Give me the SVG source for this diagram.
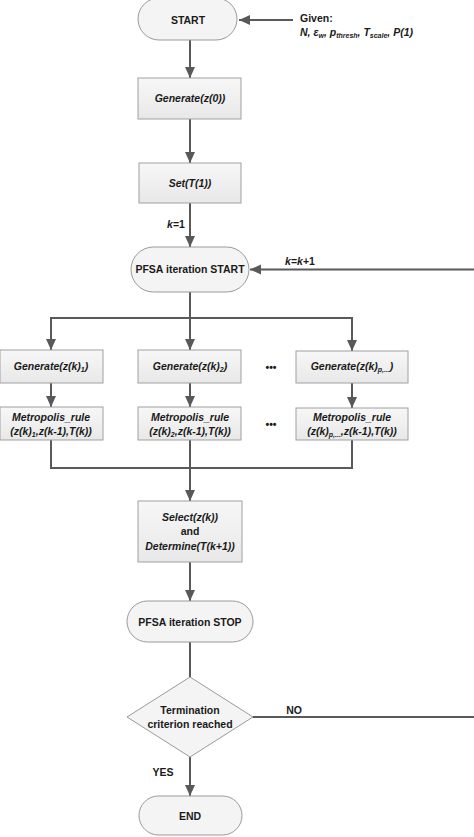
<svg xmlns="http://www.w3.org/2000/svg" width="474" height="837" viewBox="0 0 474 837">
<style>
text{font-family:"Liberation Sans",Arial,sans-serif;font-size:10.5px;fill:#1a1a1a;text-anchor:middle}
.b{font-weight:bold}
.bi{font-style:italic;font-weight:bold}
.l{text-anchor:start}
.term{fill:#f4f4f4;stroke:#9a9a9a;stroke-width:1}
.proc{fill:url(#g);stroke:#a0a0a0;stroke-width:1}
.dia{fill:#f4f4f4;stroke:#9a9a9a;stroke-width:1}
.c{fill:none;stroke:#595959;stroke-width:2}
.ca{fill:none;stroke:#595959;stroke-width:2;marker-end:url(#ah)}
.s{font-size:7px}
</style>
<defs>
<linearGradient id="g" x1="0" y1="0" x2="0" y2="1">
<stop offset="0" stop-color="#f7f7f7"/>
<stop offset="1" stop-color="#e8e8e8"/>
</linearGradient>
<marker id="ah" markerUnits="userSpaceOnUse" markerWidth="12" markerHeight="12" viewBox="0 0 12 12" refX="11" refY="6" orient="auto">
<path d="M0,1 L11,6 L0,11 Z" fill="#595959"/>
</marker>
</defs>

<g id="connectors">
<line class="ca" x1="293" y1="20" x2="239" y2="20"/>
<line class="ca" x1="190" y1="40" x2="190" y2="78"/>
<line class="ca" x1="190" y1="119" x2="190" y2="163"/>
<line class="ca" x1="190" y1="203" x2="190" y2="247"/>
<line class="ca" x1="474" y1="269.5" x2="250" y2="269.5"/>
<polyline class="c" points="190,292 190,318"/>
<polyline class="c" points="51,318 352,318"/>
<line class="ca" x1="51" y1="317" x2="51" y2="350"/>
<line class="ca" x1="190" y1="317" x2="190" y2="350"/>
<line class="ca" x1="352" y1="317" x2="352" y2="351"/>
<line class="ca" x1="51" y1="383" x2="51" y2="407"/>
<line class="ca" x1="190" y1="383" x2="190" y2="407"/>
<line class="ca" x1="352" y1="383" x2="352" y2="408"/>
<polyline class="c" points="51,440 51,468 352,468 352,440"/>
<line class="c" x1="190" y1="440" x2="190" y2="468"/>
<line class="ca" x1="190" y1="467" x2="190" y2="501"/>
<line class="ca" x1="190" y1="562" x2="190" y2="601"/>
<line class="c" x1="190" y1="642" x2="190" y2="677"/>
<line class="ca" x1="190" y1="757" x2="190" y2="796"/>
<line class="c" x1="253" y1="717" x2="474" y2="717"/>
</g>

<g id="labels">
<text class="b l" x="300" y="22">Given:</text>
<text class="bi l" x="300" y="36">N, ε<tspan class="s" dy="2">w</tspan><tspan dy="-2">, p</tspan><tspan class="s" dy="2">thresh</tspan><tspan dy="-2">, T</tspan><tspan class="s" dy="2">scale</tspan><tspan dy="-2">, P(1)</tspan></text>
<text class="b" x="176" y="228"><tspan class="bi">k</tspan>=1</text>
<text class="b" x="300" y="265"><tspan class="bi">k</tspan>=<tspan class="bi">k</tspan>+1</text>
<text class="b" x="271" y="371">•••</text>
<text class="b" x="271" y="428">•••</text>
<text class="b" x="294" y="714">NO</text>
<text class="b" x="163" y="776">YES</text>
</g>

<g id="start">
<rect class="term" x="138" y="-2" width="99" height="42" rx="21"/>
<text class="b" x="188" y="24">START</text>
</g>

<g id="generate0">
<rect class="proc" x="138" y="78" width="103" height="41"/>
<text class="bi" x="190" y="102">Generate(z(0))</text>
</g>

<g id="setT1">
<rect class="proc" x="139" y="163" width="102" height="40"/>
<text class="bi" x="190" y="187">Set(T(1))</text>
</g>

<g id="pfsa-start">
<rect class="term" x="131" y="247" width="118" height="45" rx="22.5"/>
<text class="b" x="190" y="273">PFSA iteration START</text>
</g>

<g id="gen1">
<rect class="proc" x="0" y="350" width="103" height="33"/>
<text class="bi" x="51" y="370">Generate(z(k)<tspan class="s" dy="2">1</tspan><tspan dy="-2">)</tspan></text>
</g>

<g id="gen2">
<rect class="proc" x="138" y="350" width="103" height="33"/>
<text class="bi" x="190" y="370">Generate(z(k)<tspan class="s" dy="2">2</tspan><tspan dy="-2">)</tspan></text>
</g>

<g id="genp">
<rect class="proc" x="296" y="351" width="112" height="32"/>
<text class="bi" x="352" y="370">Generate(z(k)<tspan class="s" dy="2">p,...</tspan><tspan dy="-2">)</tspan></text>
</g>

<g id="metro1">
<rect class="proc" x="0" y="407" width="103" height="33"/>
<text class="bi" x="51" y="421">Metropolis_rule</text>
<text class="bi" x="51" y="435">(z(k)<tspan class="s" dy="2">1</tspan><tspan dy="-2">,z(k-1),T(k))</tspan></text>
</g>

<g id="metro2">
<rect class="proc" x="138" y="407" width="103" height="33"/>
<text class="bi" x="190" y="421">Metropolis_rule</text>
<text class="bi" x="190" y="435">(z(k)<tspan class="s" dy="2">2</tspan><tspan dy="-2">,z(k-1),T(k))</tspan></text>
</g>

<g id="metrop">
<rect class="proc" x="296" y="408" width="112" height="32"/>
<text class="bi" x="352" y="421">Metropolis_rule</text>
<text class="bi" x="352" y="435">(z(k)<tspan class="s" dy="2">p,...</tspan><tspan dy="-2">,z(k-1),T(k))</tspan></text>
</g>

<g id="select">
<rect class="proc" x="138" y="501" width="104" height="61"/>
<text class="bi" x="190" y="521">Select(z(k))</text>
<text class="b" x="190" y="535">and</text>
<text class="bi" x="190" y="550">Determine(T(k+1))</text>
</g>

<g id="pfsa-stop">
<rect class="term" x="127" y="601" width="126" height="41" rx="20.5"/>
<text class="b" x="190" y="626">PFSA iteration STOP</text>
</g>

<g id="termination">
<polygon class="dia" points="190,677 253,717 190,757 127,717"/>
<text class="b" x="190" y="714">Termination</text>
<text class="b" x="190" y="728">criterion reached</text>
</g>

<g id="end">
<rect class="term" x="139" y="796" width="103" height="39" rx="19.5"/>
<text class="b" x="190" y="820">END</text>
</g>
</svg>
